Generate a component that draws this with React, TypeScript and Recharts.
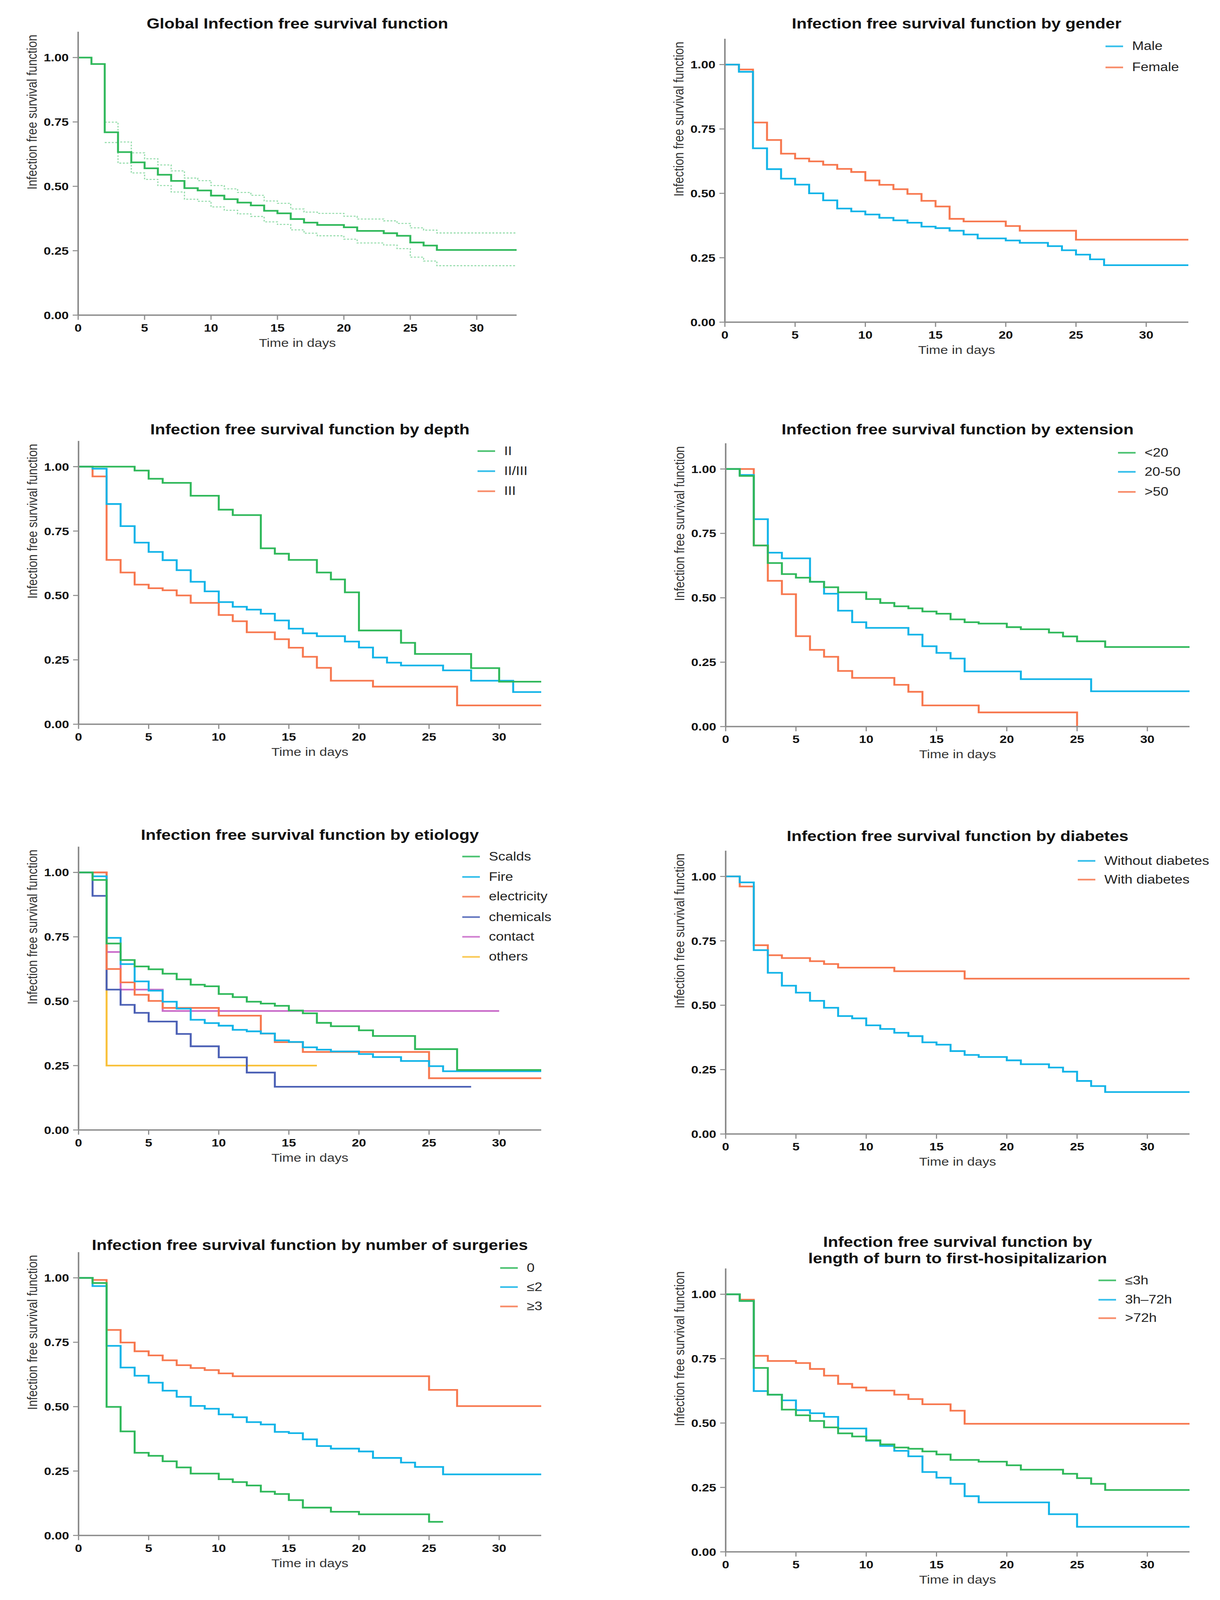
import React from "react";
import { LineChart, Line, XAxis, YAxis } from "recharts";

// axis ticks
const TIME_TICKS = [0, 5, 10, 15, 20, 25, 30];
const SURVIVAL_TICKS = [0, 0.25, 0.5, 0.75, 1];

// global
const globalTime = [0, 1, 2, 3, 4, 5, 6, 7, 8, 9, 10, 11, 12, 13, 14, 15, 16, 17, 18, 20, 21, 23, 24, 25, 26, 27, 33];
const globalSurv = [1, 0.975, 0.71, 0.633, 0.593, 0.57, 0.545, 0.521, 0.493, 0.484, 0.464, 0.45, 0.437, 0.426, 0.405, 0.395, 0.373, 0.359, 0.35, 0.341, 0.327, 0.318, 0.308, 0.282, 0.27, 0.253, 0.253];
const globalCiTime = [2, 3, 4, 5, 6, 7, 8, 9, 10, 11, 12, 13, 14, 15, 16, 17, 18, 20, 21, 23, 24, 25, 26, 27, 33];
const globalUpper = [0.749, 0.672, 0.63, 0.607, 0.583, 0.56, 0.532, 0.522, 0.503, 0.49, 0.476, 0.465, 0.443, 0.434, 0.412, 0.4, 0.395, 0.384, 0.373, 0.366, 0.356, 0.339, 0.33, 0.319, 0.319];
const globalLower = [0.67, 0.59, 0.552, 0.527, 0.503, 0.478, 0.45, 0.442, 0.42, 0.407, 0.393, 0.383, 0.362, 0.352, 0.331, 0.318, 0.308, 0.295, 0.28, 0.272, 0.258, 0.225, 0.21, 0.192, 0.192];

// gender
const maleTime = [0, 1, 2, 3, 4, 5, 6, 7, 8, 9, 10, 11, 12, 13, 14, 15, 16, 17, 18, 20, 21, 23, 24, 25, 26, 27, 33];
const maleSurv = [1, 0.972, 0.675, 0.594, 0.557, 0.534, 0.5, 0.473, 0.441, 0.43, 0.418, 0.405, 0.395, 0.386, 0.371, 0.365, 0.355, 0.34, 0.325, 0.317, 0.308, 0.295, 0.279, 0.262, 0.244, 0.221, 0.221];
const femaleTime = [0, 1, 2, 3, 4, 5, 6, 7, 8, 9, 10, 11, 12, 13, 14, 15, 16, 17, 20, 21, 25, 33];
const femaleSurv = [1, 0.981, 0.775, 0.707, 0.654, 0.635, 0.624, 0.611, 0.595, 0.583, 0.55, 0.533, 0.516, 0.498, 0.471, 0.449, 0.401, 0.391, 0.373, 0.355, 0.32, 0.32];

// depth
const depth2Time = [0, 4, 5, 6, 8, 10, 11, 13, 14, 15, 17, 18, 19, 20, 23, 24, 28, 30, 33];
const depth2Surv = [1, 0.985, 0.953, 0.937, 0.887, 0.833, 0.812, 0.683, 0.662, 0.638, 0.589, 0.562, 0.512, 0.364, 0.316, 0.273, 0.218, 0.165, 0.165];
const depth23Time = [0, 1, 2, 3, 4, 5, 6, 7, 8, 9, 10, 11, 12, 13, 14, 15, 16, 17, 19, 20, 21, 22, 23, 26, 28, 31, 33];
const depth23Surv = [1, 0.992, 0.855, 0.769, 0.705, 0.669, 0.637, 0.598, 0.553, 0.516, 0.474, 0.456, 0.445, 0.429, 0.403, 0.371, 0.353, 0.342, 0.321, 0.298, 0.259, 0.239, 0.228, 0.209, 0.169, 0.125, 0.125];
const depth3Time = [0, 1, 2, 3, 4, 5, 6, 7, 8, 10, 11, 12, 14, 15, 16, 17, 18, 21, 27, 33];
const depth3Surv = [1, 0.962, 0.638, 0.589, 0.542, 0.528, 0.52, 0.5, 0.471, 0.424, 0.4, 0.357, 0.33, 0.297, 0.262, 0.219, 0.169, 0.146, 0.073, 0.073];

// extension
const extLowTime = [0, 1, 2, 3, 4, 5, 6, 7, 8, 10, 11, 12, 13, 14, 15, 16, 17, 18, 20, 21, 23, 24, 25, 27, 33];
const extLowSurv = [1, 0.973, 0.703, 0.635, 0.592, 0.578, 0.562, 0.541, 0.521, 0.495, 0.48, 0.467, 0.459, 0.447, 0.438, 0.416, 0.405, 0.4, 0.386, 0.378, 0.365, 0.35, 0.331, 0.309, 0.309];
const extMidTime = [0, 1, 2, 3, 4, 6, 7, 8, 9, 10, 13, 14, 15, 16, 17, 21, 26, 33];
const extMidSurv = [1, 0.977, 0.805, 0.675, 0.653, 0.562, 0.516, 0.45, 0.405, 0.383, 0.357, 0.312, 0.286, 0.264, 0.214, 0.184, 0.137, 0.137];
const extHighTime = [0, 2, 3, 4, 5, 6, 7, 8, 9, 12, 13, 14, 18, 25];
const extHighSurv = [1, 0.703, 0.566, 0.514, 0.351, 0.298, 0.271, 0.216, 0.189, 0.162, 0.135, 0.082, 0.055, 0];

// etiology
const scaldsTime = [0, 1, 2, 3, 4, 5, 6, 7, 8, 9, 10, 11, 12, 13, 14, 15, 16, 17, 18, 20, 21, 24, 27, 33];
const scaldsSurv = [1, 0.971, 0.724, 0.66, 0.635, 0.624, 0.607, 0.585, 0.564, 0.558, 0.528, 0.516, 0.498, 0.491, 0.482, 0.464, 0.453, 0.416, 0.403, 0.387, 0.365, 0.314, 0.233, 0.233];
const fireTime = [0, 1, 2, 3, 4, 5, 6, 7, 8, 9, 10, 11, 12, 13, 14, 15, 16, 17, 18, 20, 21, 23, 25, 26, 33];
const fireSurv = [1, 0.985, 0.746, 0.644, 0.577, 0.541, 0.498, 0.471, 0.428, 0.415, 0.405, 0.389, 0.383, 0.375, 0.348, 0.342, 0.321, 0.312, 0.305, 0.295, 0.283, 0.268, 0.248, 0.228, 0.228];
const electricityTime = [0, 2, 3, 4, 5, 6, 10, 13, 14, 16, 25, 33];
const electricitySurv = [1, 0.625, 0.573, 0.525, 0.501, 0.474, 0.444, 0.374, 0.341, 0.303, 0.201, 0.201];
const chemicalsTime = [0, 1, 2, 3, 4, 5, 7, 8, 10, 12, 14, 28];
const chemicalsSurv = [1, 0.909, 0.545, 0.486, 0.455, 0.421, 0.373, 0.325, 0.282, 0.223, 0.168, 0.168];
const contactTime = [0, 2, 3, 6, 30];
const contactSurv = [1, 0.691, 0.545, 0.462, 0.462];
const othersTime = [0, 2, 17];
const othersSurv = [1, 0.25, 0.25];

// diabetes
const noDiabTime = [0, 1, 2, 3, 4, 5, 6, 7, 8, 9, 10, 11, 12, 13, 14, 15, 16, 17, 18, 20, 21, 23, 24, 25, 26, 27, 33];
const noDiabSurv = [1, 0.977, 0.714, 0.626, 0.576, 0.549, 0.517, 0.49, 0.458, 0.449, 0.422, 0.408, 0.393, 0.38, 0.356, 0.347, 0.322, 0.307, 0.299, 0.286, 0.271, 0.258, 0.242, 0.206, 0.186, 0.163, 0.163];
const diabTime = [0, 1, 2, 3, 4, 6, 7, 8, 12, 17, 33];
const diabSurv = [1, 0.961, 0.733, 0.694, 0.683, 0.671, 0.66, 0.646, 0.632, 0.603, 0.603];

// surgeries
const surg0Time = [0, 1, 2, 3, 4, 5, 6, 7, 8, 10, 11, 12, 13, 14, 15, 16, 18, 20, 25, 26];
const surg0Surv = [1, 0.98, 0.499, 0.404, 0.321, 0.309, 0.288, 0.264, 0.24, 0.218, 0.207, 0.194, 0.17, 0.161, 0.137, 0.108, 0.092, 0.082, 0.053, 0.053];
const surg2Time = [0, 1, 2, 3, 4, 5, 6, 7, 8, 9, 10, 11, 12, 13, 14, 15, 16, 17, 18, 20, 21, 23, 24, 26, 33];
const surg2Surv = [1, 0.968, 0.736, 0.652, 0.62, 0.593, 0.562, 0.538, 0.503, 0.492, 0.47, 0.459, 0.44, 0.431, 0.402, 0.397, 0.373, 0.347, 0.337, 0.326, 0.301, 0.283, 0.266, 0.237, 0.237];
const surg3Time = [0, 1, 2, 3, 4, 5, 6, 7, 8, 9, 10, 11, 25, 27, 33];
const surg3Surv = [1, 0.992, 0.798, 0.749, 0.715, 0.699, 0.68, 0.661, 0.65, 0.642, 0.629, 0.618, 0.565, 0.502, 0.502];

// burn to first hospitalization
const hosp3Time = [0, 1, 2, 3, 4, 5, 6, 7, 8, 9, 10, 11, 12, 13, 14, 15, 16, 18, 20, 21, 24, 25, 26, 27, 33];
const hosp3Surv = [1, 0.974, 0.714, 0.61, 0.552, 0.53, 0.508, 0.483, 0.46, 0.448, 0.433, 0.417, 0.405, 0.4, 0.39, 0.378, 0.357, 0.35, 0.336, 0.319, 0.303, 0.286, 0.264, 0.24, 0.24];
const hosp72Time = [0, 1, 2, 3, 4, 5, 6, 7, 8, 10, 11, 12, 13, 14, 15, 16, 17, 18, 23, 25, 33];
const hosp72Surv = [1, 0.974, 0.624, 0.61, 0.588, 0.55, 0.538, 0.524, 0.479, 0.431, 0.411, 0.392, 0.371, 0.31, 0.288, 0.264, 0.216, 0.192, 0.146, 0.097, 0.097];
const hospLateTime = [0, 1, 2, 3, 5, 6, 7, 8, 9, 10, 12, 13, 14, 16, 17, 33];
const hospLateSurv = [1, 0.979, 0.761, 0.741, 0.733, 0.71, 0.684, 0.652, 0.638, 0.626, 0.61, 0.593, 0.573, 0.548, 0.497, 0.497];

const GREEN = "#2fb85a";
const GREEN_CI = "#93dcaa";
const BLUE = "#12b4e8";
const ORANGE = "#f7784f";
const NAVY = "#4b60b5";
const PURPLE = "#c96bc9";
const YELLOW = "#f9c13a";
const AXIS = "#8c8c8c";
const FONT = '"Liberation Sans", Arial, Helvetica, sans-serif';

const PAGE_W = 3122;
const PAGE_H = 4783;

type Series = { name: string; time: number[]; surv: number[]; color: string; dash?: string; width?: number; legend?: boolean };
type Box = { x0: number; x1: number; y0: number; titleY: number; legendX?: number; legendY?: number[] };

const toPoints = (time: number[], surv: number[]) => time.map((t, i) => ({ t, s: surv[i] }));

const YW = 110;
const XH = 70;
const MT = 10;
const MR = 20;
const PLOT_H = 847; // 0 .. 1.1

function Panel({ box, title, series }: { box: Box; title: string[]; series: Series[] }) {
  const { x0, x1, y0, titleY, legendX, legendY } = box;
  const cx = (x0 + x1) / 2;
  const legendItems = series.filter((s) => s.legend !== false);
  // draw the first legend entry on top, like the original
  const drawOrder = [...series].reverse();
  return (
    <>
      <div
        style={{
          position: "absolute",
          left: cx,
          top: titleY,
          transform: "translate(-50%, -50%)",
          fontSize: 43,
          fontWeight: "bold",
          lineHeight: "50px",
          textAlign: "center",
          whiteSpace: "nowrap",
          color: "#111",
        }}
      >
        {title.map((t) => (
          <div key={t}>{t}</div>
        ))}
      </div>
      <div
        style={{
          position: "absolute",
          left: x0 - 118,
          top: y0 - 607,
          transform: "translate(-50%, -50%) rotate(-90deg)",
          fontSize: 35,
          whiteSpace: "nowrap",
          color: "#333",
        }}
      >
        Infection free survival function
      </div>
      <div
        style={{
          position: "absolute",
          left: cx,
          top: y0 + 83,
          transform: "translate(-50%, -50%)",
          fontSize: 35,
          whiteSpace: "nowrap",
          color: "#333",
        }}
      >
        Time in days
      </div>
      <div style={{ position: "absolute", left: x0 - YW, top: y0 - PLOT_H - MT }}>
        <LineChart
          width={YW + (x1 - x0) + MR}
          height={MT + PLOT_H + XH}
          margin={{ top: MT, right: MR, bottom: 0, left: 0 }}
        >
          <XAxis
            dataKey="t"
            type="number"
            domain={[0, 33]}
            ticks={TIME_TICKS}
            interval={0}
            allowDataOverflow
            height={XH}
            axisLine={{ stroke: AXIS, strokeWidth: 4 }}
            tickLine={{ stroke: AXIS, strokeWidth: 3 }}
            tickSize={14}
            tickMargin={12}
            tick={{ fill: "#111", fontSize: 33, fontWeight: "bold", fontFamily: FONT }}
          />
          <YAxis
            type="number"
            domain={[0, 1.1]}
            ticks={SURVIVAL_TICKS}
            interval={0}
            allowDataOverflow
            width={YW}
            axisLine={{ stroke: AXIS, strokeWidth: 4 }}
            tickLine={{ stroke: AXIS, strokeWidth: 3 }}
            tickSize={14}
            tickMargin={10}
            tickFormatter={(v: number) => v.toFixed(2)}
            tick={{ fill: "#111", fontSize: 33, fontWeight: "bold", fontFamily: FONT }}
          />
          {drawOrder.map((s) => (
            <Line
              key={s.name}
              data={toPoints(s.time, s.surv)}
              dataKey="s"
              type="stepAfter"
              stroke={s.color}
              strokeWidth={s.width ?? 5}
              strokeDasharray={s.dash}
              dot={false}
              activeDot={false}
              isAnimationActive={false}
            />
          ))}
        </LineChart>
      </div>
      {legendX !== undefined &&
        legendY &&
        legendItems.map((s, i) => (
          <React.Fragment key={s.name}>
            <div
              style={{
                position: "absolute",
                left: legendX,
                top: legendY[i] - 2.5,
                width: 45,
                height: 5,
                background: s.color,
                opacity: 0.85,
              }}
            />
            <div
              style={{
                position: "absolute",
                left: legendX + 68,
                top: legendY[i],
                transform: "translateY(-50%)",
                fontSize: 36,
                whiteSpace: "nowrap",
                color: "#222",
              }}
            >
              {s.name}
            </div>
          </React.Fragment>
        ))}
    </>
  );
}

const TITLE = "Infection free survival function";

export default function App() {
  // the browser window may be shorter than the figure: squeeze it vertically to fit
  const viewH = typeof window !== "undefined" ? window.innerHeight : PAGE_H;
  const k = Math.min(1, viewH / PAGE_H);
  return (
    <div
      style={{
        position: "absolute",
        left: 0,
        top: 0,
        width: PAGE_W,
        height: Math.floor(PAGE_H * k),
        overflow: "hidden",
        background: "#fff",
      }}
    >
      <div
        style={{
          position: "absolute",
          left: 0,
          top: 0,
          width: PAGE_W,
          height: PAGE_H,
          background: "#fff",
          fontFamily: FONT,
          transform: `scale(1, ${k})`,
          transformOrigin: "0 0",
        }}
      >
        <Panel
          box={{ x0: 200, x1: 1322, y0: 942, titleY: 70 }}
          title={["Global " + TITLE]}
          series={[
            { name: "global", time: globalTime, surv: globalSurv, color: GREEN, legend: false },
            { name: "upper", time: globalCiTime, surv: globalUpper, color: GREEN_CI, dash: "5 4", width: 3, legend: false },
            { name: "lower", time: globalCiTime, surv: globalLower, color: GREEN_CI, dash: "5 4", width: 3, legend: false },
          ]}
        />
        <Panel
          box={{ x0: 1855, x1: 3041, y0: 963, titleY: 70, legendX: 2829, legendY: [138, 201] }}
          title={[TITLE + " by gender"]}
          series={[
            { name: "Male", time: maleTime, surv: maleSurv, color: BLUE },
            { name: "Female", time: femaleTime, surv: femaleSurv, color: ORANGE },
          ]}
        />
        <Panel
          box={{ x0: 201, x1: 1385, y0: 2165, titleY: 1283, legendX: 1222, legendY: [1348, 1408, 1468] }}
          title={[TITLE + " by depth"]}
          series={[
            { name: "II", time: depth2Time, surv: depth2Surv, color: GREEN },
            { name: "II/III", time: depth23Time, surv: depth23Surv, color: BLUE },
            { name: "III", time: depth3Time, surv: depth3Surv, color: ORANGE },
          ]}
        />
        <Panel
          box={{ x0: 1857, x1: 3044, y0: 2172, titleY: 1283, legendX: 2861, legendY: [1353, 1410, 1470] }}
          title={[TITLE + " by extension"]}
          series={[
            { name: "<20", time: extLowTime, surv: extLowSurv, color: GREEN },
            { name: "20-50", time: extMidTime, surv: extMidSurv, color: BLUE },
            { name: ">50", time: extHighTime, surv: extHighSurv, color: ORANGE },
          ]}
        />
        <Panel
          box={{ x0: 201, x1: 1385, y0: 3378, titleY: 2496, legendX: 1183, legendY: [2560, 2621, 2680, 2741, 2800, 2860] }}
          title={[TITLE + " by etiology"]}
          series={[
            { name: "Scalds", time: scaldsTime, surv: scaldsSurv, color: GREEN },
            { name: "Fire", time: fireTime, surv: fireSurv, color: BLUE },
            { name: "electricity", time: electricityTime, surv: electricitySurv, color: ORANGE },
            { name: "chemicals", time: chemicalsTime, surv: chemicalsSurv, color: NAVY },
            { name: "contact", time: contactTime, surv: contactSurv, color: PURPLE },
            { name: "others", time: othersTime, surv: othersSurv, color: YELLOW },
          ]}
        />
        <Panel
          box={{ x0: 1857, x1: 3044, y0: 3390, titleY: 2499, legendX: 2758, legendY: [2573, 2629] }}
          title={[TITLE + " by diabetes"]}
          series={[
            { name: "Without diabetes", time: noDiabTime, surv: noDiabSurv, color: BLUE },
            { name: "With diabetes", time: diabTime, surv: diabSurv, color: ORANGE },
          ]}
        />
        <Panel
          box={{ x0: 201, x1: 1385, y0: 4590, titleY: 3722, legendX: 1280, legendY: [3790, 3847, 3905] }}
          title={[TITLE + " by number of surgeries"]}
          series={[
            { name: "0", time: surg0Time, surv: surg0Surv, color: GREEN },
            { name: "≤2", time: surg2Time, surv: surg2Surv, color: BLUE },
            { name: "≥3", time: surg3Time, surv: surg3Surv, color: ORANGE },
          ]}
        />
        <Panel
          box={{ x0: 1857, x1: 3044, y0: 4639, titleY: 3737, legendX: 2811, legendY: [3827, 3885, 3940] }}
          title={[TITLE + " by", "length of burn to first-hosipitalizarion"]}
          series={[
            { name: "≤3h", time: hosp3Time, surv: hosp3Surv, color: GREEN },
            { name: "3h–72h", time: hosp72Time, surv: hosp72Surv, color: BLUE },
            { name: ">72h", time: hospLateTime, surv: hospLateSurv, color: ORANGE },
          ]}
        />
      </div>
    </div>
  );
}
